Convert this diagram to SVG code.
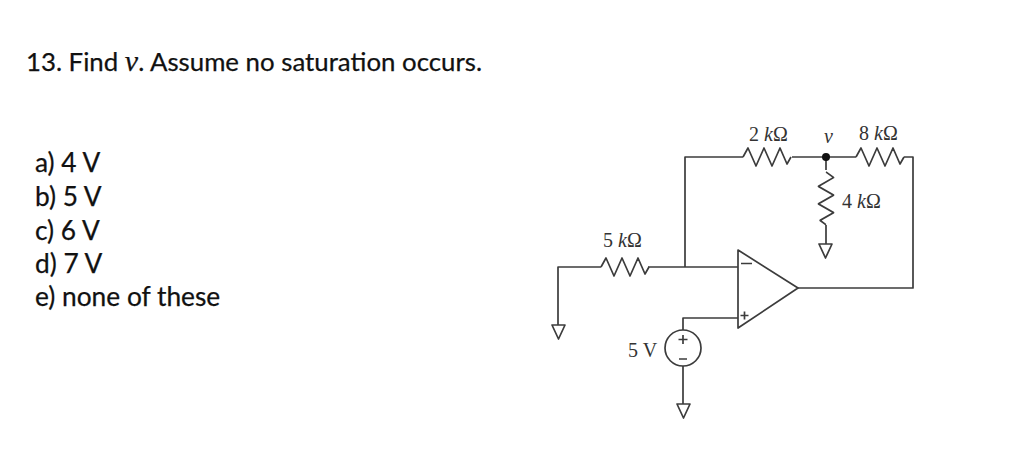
<svg xmlns="http://www.w3.org/2000/svg" width="1024" height="472" viewBox="0 0 1024 472">
<style>
.w{fill:none;stroke:#3c3c3c;stroke-width:1.7;stroke-linejoin:round}
.q{font-family:Lato,"Open Sans",sans-serif;font-size:26.300px;fill:#111;stroke:#111;stroke-width:.25}
.c{font-family:"Liberation Serif",serif;font-size:20px;fill:#333}
.i{font-style:italic}
</style>
<defs>
<path id="gnd" class="w" d="M-6.500 0H6.500L0 14Z"/>
<path id="res" class="w" d="M0 0L5 -9L13 9L21 -9L29 9L37 -9L44 7L48 0"/>
</defs>
<rect width="1024" height="472" fill="#fff"/>
<g id="question">
<text class="q" x="26" y="71" style="font-size:25.800px">13. Find <tspan class="i" font-family="Liberation Serif" font-size="30">v</tspan>. Assume no saturation occurs.</text>
<text class="q" x="35" y="172">a) 4 V</text>
<text class="q" x="35" y="206">b) 5 V</text>
<text class="q" x="35" y="240">c) 6 V</text>
<text class="q" x="35" y="273">d) 7 V</text>
<text class="q" x="35" y="306">e) none of these</text>
</g>
<g id="connectors">
<path class="w" d="M743 157H685V267M792 157H856M904 157H913V288H798"/>
<path class="w" d="M558 325V267H601M648 267H738"/>
<path class="w" d="M738 318H683V330M683 366V404"/>
<path class="w" d="M826 157V170M826 225V244"/>
</g>
<g id="r2k"><use href="#res" x="743" y="157"/><text class="c" x="749" y="141">2 <tspan class="i">k</tspan>Ω</text></g>
<g id="r8k"><use href="#res" x="856" y="157"/><text class="c" x="859" y="140">8 <tspan class="i">k</tspan>Ω</text></g>
<g id="r5k"><use href="#res" x="601" y="267"/><text class="c" x="603" y="247">5 <tspan class="i">k</tspan>Ω</text></g>
<g id="r4k"><use href="#res" transform="translate(826 172) rotate(90) scale(1.1 .85)"/><text class="c" x="842" y="208">4 <tspan class="i">k</tspan>Ω</text></g>
<g id="node-v"><circle cx="826" cy="157" r="4" fill="#111"/><text class="c i" x="824" y="143">v</text></g>
<g id="opamp">
<path class="w" d="M738 250L798 288L738 328Z"/>
<path class="w" d="M741 263.500H752M740.500 315.500H748.500M744.500 311.500V319.500"/>
</g>
<g id="source">
<circle class="w" cx="683" cy="348" r="18"/>
<path class="w" d="M683 335V344M678.500 339.500H687.500M679 359H687"/>
<text class="c" x="628" y="357">5 V</text>
</g>
<g id="grounds">
<use href="#gnd" x="558.500" y="325"/>
<use href="#gnd" x="683.500" y="404"/>
<use href="#gnd" x="825.500" y="244"/>
</g>
</svg>
